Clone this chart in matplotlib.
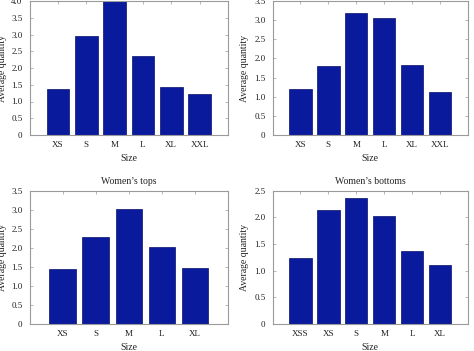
import matplotlib
matplotlib.use("Agg")
import matplotlib.pyplot as plt
from matplotlib.ticker import FuncFormatter, MultipleLocator

plt.rcParams['font.family'] = ['Liberation Serif', 'DejaVu Serif']

# Data
men_tops_sizes = ["XS", "S", "M", "L", "XL", "XXL"]
men_tops_vals = [1.38, 2.96, 4.0, 2.36, 1.43, 1.21]

men_bottoms_sizes = ["XS", "S", "M", "L", "XL", "XXL"]
men_bottoms_vals = [1.21, 1.80, 3.18, 3.06, 1.82, 1.13]

women_tops_sizes = ["XS", "S", "M", "L", "XL"]
women_tops_vals = [1.44, 2.28, 3.01, 2.03, 1.47]

women_bottoms_sizes = ["XSS", "XS", "S", "M", "L", "XL"]
women_bottoms_vals = [1.24, 2.14, 2.36, 2.02, 1.36, 1.11]

titles = ["Men\u2019s tops", "Men\u2019s bottoms", "Women\u2019s tops", "Women\u2019s bottoms"]
show_title = [False, False, True, True]
ymaxes = [4.0, 3.5, 3.5, 2.5]

W, H = 474, 351
fig = plt.figure(figsize=(W / 100, H / 100), dpi=100)

def box(l, t, r, b):
    return [l / W, 1 - b / H, (r - l) / W, (b - t) / H]

positions = [box(29.5, 1, 228, 135), box(272.5, 1, 468, 135),
             box(29.5, 190.5, 228, 324), box(272.5, 190.5, 468, 324)]
ylabel_px = [7.5, 249, 7.5, 249]

bar_color = '#0a1a9c'
spine_color = '#9a9a9a'

def fmt(v, pos):
    if abs(v) < 1e-9:
        return "0"
    return f"{v:.1f}"

datasets = [(men_tops_sizes, men_tops_vals), (men_bottoms_sizes, men_bottoms_vals),
            (women_tops_sizes, women_tops_vals), (women_bottoms_sizes, women_bottoms_vals)]

for i, ((sizes, vals), pos) in enumerate(zip(datasets, positions)):
    ax = fig.add_axes(pos)
    x = list(range(1, len(sizes) + 1))
    ax.bar(x, vals, width=0.8, color=bar_color, edgecolor='#06106a', linewidth=0.5, zorder=2)
    ax.set_xlim(0, len(sizes) + 1)
    ax.set_ylim(0, ymaxes[i])
    ax.set_xticks(x)
    ax.set_xticklabels(sizes)
    ax.yaxis.set_major_locator(MultipleLocator(0.5))
    ax.yaxis.set_major_formatter(FuncFormatter(fmt))
    ax.tick_params(direction='in', length=2.5, width=0.5, colors=spine_color,
                   labelcolor='#222222', labelsize=6.5, top=True, right=True)
    ax.tick_params(axis='y', pad=5)
    ax.tick_params(axis='x', pad=4)
    for s in ax.spines.values():
        s.set_color(spine_color)
        s.set_linewidth(0.8)
    ax.set_xlabel("Size", fontsize=7, color='#222222', labelpad=4)
    ax.set_ylabel("Average quantity", fontsize=7, color='#222222')
    axw = pos[2] * W
    ax.yaxis.set_label_coords((ylabel_px[i] - pos[0] * W) / axw, 0.5)
    if show_title[i]:
        ax.set_title(titles[i], fontsize=7, color='#222222', pad=5)

fig.savefig("out.png", dpi=100)
